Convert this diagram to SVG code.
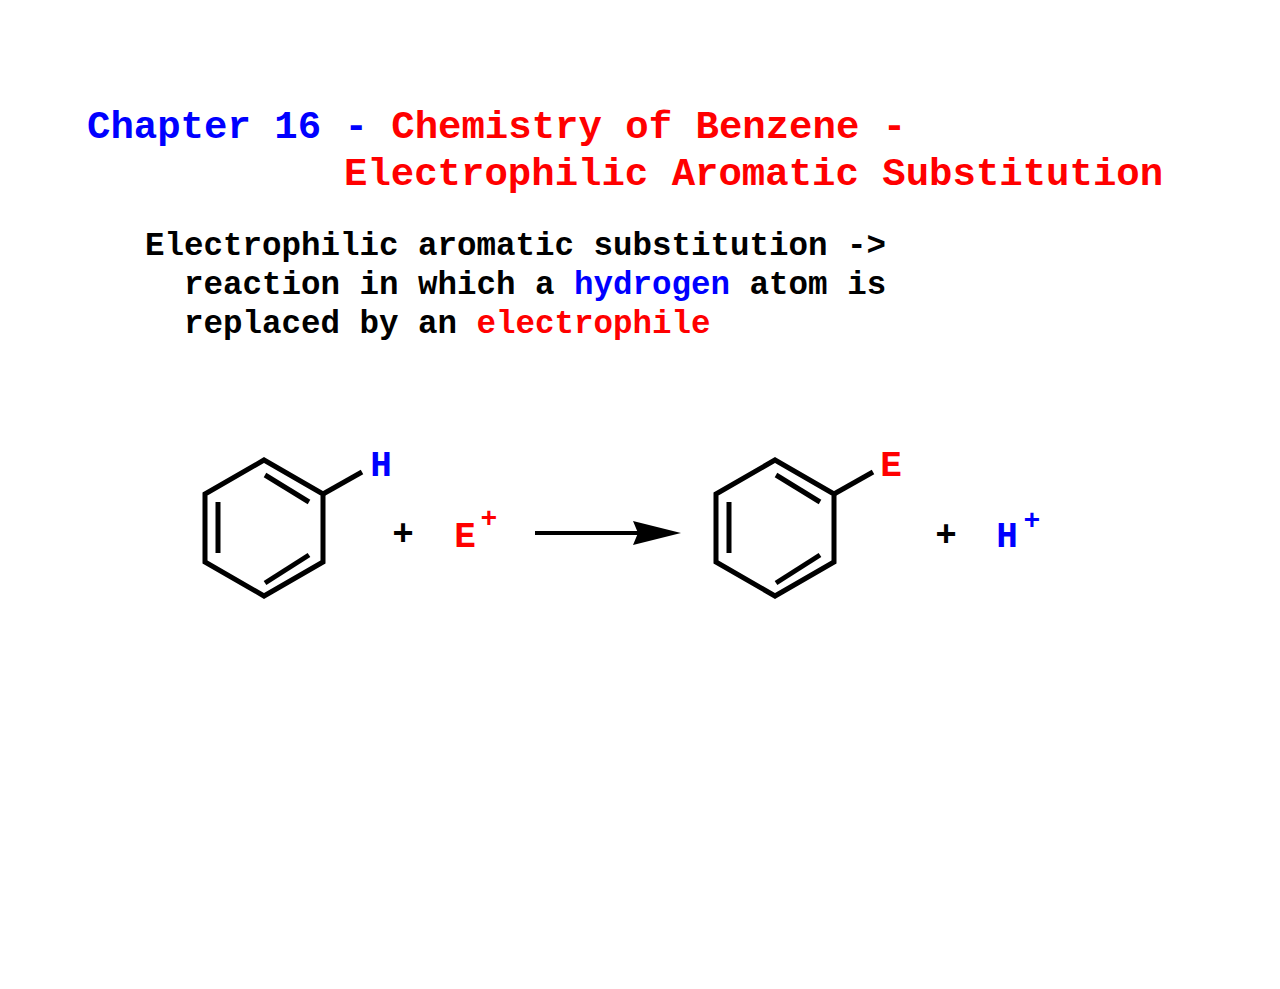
<svg xmlns="http://www.w3.org/2000/svg" width="1280" height="989" viewBox="0 0 1280 989">
<style>
text{font-family:"Liberation Mono","Courier New",monospace;font-weight:bold}
.b{fill:#0000FF}.r{fill:#FF0000}.k{fill:#000}
.title{font-size:39px}
.body{font-size:32.5px}
.atom{font-size:36px}
.sup{font-size:28px}
.bond{stroke:#000;stroke-width:5;fill:none;stroke-linecap:butt;stroke-linejoin:miter}
</style>
<defs>
<g id="ring">
<polygon class="bond" points="264,460 323,494 323,562 264,596 205,562 205,494"/>
<line class="bond" x1="265" y1="475" x2="309" y2="502"/>
<line class="bond" x1="218" y1="502" x2="218" y2="553"/>
<line class="bond" x1="309" y1="555" x2="265" y2="583"/>
<line class="bond" x1="323" y1="494" x2="362" y2="472"/>
</g>
</defs>
<rect width="1280" height="989" fill="#fff"/>
<g id="title">
<text class="title" x="87" y="138"><tspan class="b">Chapter 16 - </tspan><tspan class="r">Chemistry of Benzene -</tspan></text>
<text class="title r" x="344" y="185">Electrophilic Aromatic Substitution</text>
</g>
<g id="definition">
<text class="body k" x="145" y="255">Electrophilic aromatic substitution -&gt;</text>
<text class="body k" x="184" y="294">reaction in which a <tspan class="b">hydrogen</tspan> atom is</text>
<text class="body k" x="184" y="333">replaced by an <tspan class="r">electrophile</tspan></text>
</g>
<g id="benzene">
<use href="#ring"/>
<text class="atom b" x="381" y="476" text-anchor="middle">H</text>
</g>
<g id="plus1"><text class="atom k" x="403" y="545" text-anchor="middle">+</text></g>
<g id="electrophile">
<text class="atom r" x="465" y="547" text-anchor="middle">E</text>
<text class="sup r" x="489" y="527" text-anchor="middle">+</text>
</g>
<g id="connectors">
<line x1="535" y1="533" x2="640" y2="533" stroke="#000" stroke-width="4"/>
<polygon points="633,521 681,533 633,545 638,533" fill="#000"/>
</g>
<g id="product">
<use href="#ring" transform="translate(511,0)"/>
<text class="atom r" x="891" y="476" text-anchor="middle">E</text>
</g>
<g id="plus2"><text class="atom k" x="946" y="546" text-anchor="middle">+</text></g>
<g id="proton">
<text class="atom b" x="1007" y="547" text-anchor="middle">H</text>
<text class="sup b" x="1032" y="529" text-anchor="middle">+</text>
</g>
</svg>
